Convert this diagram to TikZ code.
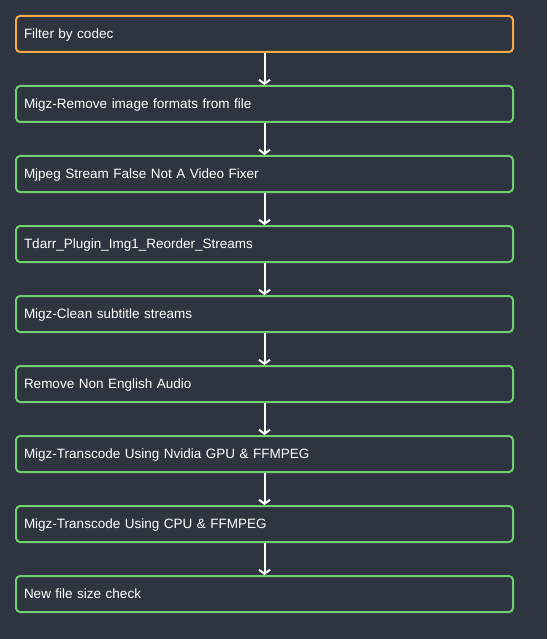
\documentclass[tikz,border=0pt]{standalone}
\usepackage{fontspec}
\setmainfont{Liberation Sans}
\usepackage{xcolor}
\usetikzlibrary{positioning,arrows.meta}

\definecolor{panelbg}{HTML}{2E3440}
\definecolor{startcol}{HTML}{F5A843}
\definecolor{stepcol}{HTML}{6FCF6F}

\begin{document}
\begin{tikzpicture}
		[
			x=1pt,y=1pt,
			node distance=32pt,
			every node/.style={
					draw=stepcol,line width=2pt,rounded corners=4pt,
					minimum width=497pt,minimum height=36pt,inner xsep=8pt,
					text width=481pt,align=left,text=white,
					text height=12.7pt,text depth=3pt,
					font=\fontsize{13.5pt}{16pt}\selectfont},
			startbox/.style={draw=startcol},
			flow/.style={draw=white,line width=2pt,
					-{Straight Barb[length=4pt,width=11pt,line width=2pt]}}]
		\fill[panelbg] (0,0) rectangle (547,-639);
		\useasboundingbox (0,0) rectangle (547,-639);
		\node[startbox] (Filter) at (264.5,-34) {Filter by codec};
		\node[below=of Filter] (RemoveImage) {Migz-Remove image formats from file};
		\node[below=of RemoveImage] (Mjpeg) {Mjpeg Stream False Not A Video Fixer};
		\node[below=of Mjpeg] (Reorder) {Tdarr\_Plugin\_Img1\_Reorder\_Streams};
		\node[below=of Reorder] (CleanSubs) {Migz-Clean subtitle streams};
		\node[below=of CleanSubs] (RemoveAudio) {Remove Non English Audio};
		\node[below=of RemoveAudio] (GpuTranscode) {Migz-Transcode Using Nvidia GPU \& FFMPEG};
		\node[below=of GpuTranscode] (CpuTranscode) {Migz-Transcode Using CPU \& FFMPEG};
		\node[below=of CpuTranscode] (SizeCheck) {New file size check};
		% arrows between the steps
		\foreach \from/\to in {Filter/RemoveImage,RemoveImage/Mjpeg,Mjpeg/Reorder,
				Reorder/CleanSubs,CleanSubs/RemoveAudio,RemoveAudio/GpuTranscode,
				GpuTranscode/CpuTranscode,CpuTranscode/SizeCheck}
			{
				\draw[flow] (\from.south) -- (\to.north);
			}
	\end{tikzpicture}
\end{document}
